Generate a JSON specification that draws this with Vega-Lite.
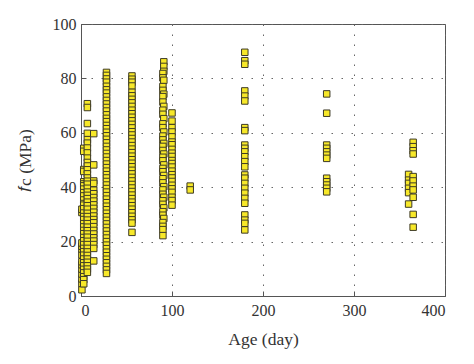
{
  "$schema": "https://vega.github.io/schema/vega-lite/v6.json",
  "autosize": "none",
  "width": 364,
  "height": 272,
  "padding": {"left": 81, "top": 24, "right": 29, "bottom": 68},
  "background": "white",
  "config": {
    "view": {"stroke": "#555", "strokeWidth": 1},
    "font": "Liberation Serif"
  },
  "data": {"values": [
    {"age":1,"fc":2.3},{"age":1,"fc":4.6},{"age":1,"fc":6.3},{"age":1,"fc":8.1},{"age":1,"fc":9.9},{"age":1,"fc":11.5},{"age":1,"fc":12.6},{"age":1,"fc":15.1},{"age":1,"fc":17.3},{"age":1,"fc":18.3},{"age":1,"fc":19.5},{"age":1,"fc":30.7},{"age":1,"fc":31.9},
    {"age":3,"fc":54.3},{"age":3,"fc":53.2},{"age":3,"fc":46.5},{"age":3,"fc":45.8},{"age":3,"fc":42.0},{"age":3,"fc":41.2},{"age":3,"fc":40.5},{"age":3,"fc":39.3},{"age":3,"fc":38.0},{"age":3,"fc":36.8},{"age":3,"fc":35.3},{"age":3,"fc":34.0},{"age":3,"fc":33.4},{"age":3,"fc":32.1},{"age":3,"fc":30.5},{"age":3,"fc":29.2},{"age":3,"fc":28.1},{"age":3,"fc":26.6},{"age":3,"fc":25.4},{"age":3,"fc":24.1},{"age":3,"fc":22.9},{"age":3,"fc":21.5},{"age":3,"fc":20.3},{"age":3,"fc":18.9},{"age":3,"fc":17.5},{"age":3,"fc":16.3},{"age":3,"fc":15.0},{"age":3,"fc":13.6},{"age":3,"fc":12.2},{"age":3,"fc":11.1},{"age":3,"fc":9.8},{"age":3,"fc":8.5},{"age":3,"fc":7.1},{"age":3,"fc":6.0},{"age":3,"fc":4.5},
    {"age":7,"fc":70.7},{"age":7,"fc":69.3},{"age":7,"fc":63.4},{"age":7,"fc":59.8},{"age":7,"fc":57.5},{"age":7,"fc":56.2},{"age":7,"fc":54.4},{"age":7,"fc":52.6},{"age":7,"fc":50.7},{"age":7,"fc":49.1},{"age":7,"fc":47.8},{"age":7,"fc":46.4},{"age":7,"fc":44.9},{"age":7,"fc":43.4},{"age":7,"fc":42.2},{"age":7,"fc":41.1},{"age":7,"fc":39.6},{"age":7,"fc":38.2},{"age":7,"fc":37.0},{"age":7,"fc":35.8},{"age":7,"fc":34.5},{"age":7,"fc":33.2},{"age":7,"fc":31.9},{"age":7,"fc":30.4},{"age":7,"fc":29.2},{"age":7,"fc":27.9},{"age":7,"fc":26.6},{"age":7,"fc":25.3},{"age":7,"fc":24.0},{"age":7,"fc":22.8},{"age":7,"fc":21.6},{"age":7,"fc":20.1},{"age":7,"fc":18.9},{"age":7,"fc":17.5},{"age":7,"fc":16.2},{"age":7,"fc":14.9},{"age":7,"fc":13.6},{"age":7,"fc":12.4},{"age":7,"fc":11.1},{"age":7,"fc":9.9},{"age":7,"fc":8.7},
    {"age":14,"fc":59.7},{"age":14,"fc":48.2},{"age":14,"fc":42.3},{"age":14,"fc":41.4},{"age":14,"fc":38.9},{"age":14,"fc":37.6},{"age":14,"fc":36.2},{"age":14,"fc":34.9},{"age":14,"fc":33.5},{"age":14,"fc":32.2},{"age":14,"fc":30.8},{"age":14,"fc":29.4},{"age":14,"fc":28.1},{"age":14,"fc":26.9},{"age":14,"fc":25.5},{"age":14,"fc":24.1},{"age":14,"fc":22.8},{"age":14,"fc":21.4},{"age":14,"fc":20.2},{"age":14,"fc":18.9},{"age":14,"fc":17.5},{"age":14,"fc":12.9},
    {"age":28,"fc":82.2},{"age":28,"fc":81.1},{"age":28,"fc":79.8},{"age":28,"fc":78.6},{"age":28,"fc":77.1},{"age":28,"fc":75.8},{"age":28,"fc":74.6},{"age":28,"fc":73.2},{"age":28,"fc":71.9},{"age":28,"fc":70.6},{"age":28,"fc":69.3},{"age":28,"fc":68.0},{"age":28,"fc":66.6},{"age":28,"fc":65.3},{"age":28,"fc":64.1},{"age":28,"fc":62.7},{"age":28,"fc":61.5},{"age":28,"fc":60.2},{"age":28,"fc":58.9},{"age":28,"fc":57.6},{"age":28,"fc":56.3},{"age":28,"fc":55.0},{"age":28,"fc":53.7},{"age":28,"fc":52.4},{"age":28,"fc":51.1},{"age":28,"fc":49.8},{"age":28,"fc":48.5},{"age":28,"fc":47.2},{"age":28,"fc":45.9},{"age":28,"fc":44.6},{"age":28,"fc":43.4},{"age":28,"fc":42.1},{"age":28,"fc":40.8},{"age":28,"fc":39.5},{"age":28,"fc":38.2},{"age":28,"fc":36.9},{"age":28,"fc":35.6},{"age":28,"fc":34.3},{"age":28,"fc":33.0},{"age":28,"fc":31.7},{"age":28,"fc":30.4},{"age":28,"fc":29.1},{"age":28,"fc":27.8},{"age":28,"fc":26.5},{"age":28,"fc":25.2},{"age":28,"fc":23.9},{"age":28,"fc":22.6},{"age":28,"fc":21.3},{"age":28,"fc":20.0},{"age":28,"fc":18.7},{"age":28,"fc":17.4},{"age":28,"fc":16.1},{"age":28,"fc":14.8},{"age":28,"fc":13.5},{"age":28,"fc":12.2},{"age":28,"fc":10.9},{"age":28,"fc":9.6},{"age":28,"fc":8.3},
    {"age":56,"fc":80.9},{"age":56,"fc":79.7},{"age":56,"fc":78.6},{"age":56,"fc":77.2},{"age":56,"fc":74.9},{"age":56,"fc":73.6},{"age":56,"fc":72.3},{"age":56,"fc":71.0},{"age":56,"fc":69.7},{"age":56,"fc":68.3},{"age":56,"fc":67.0},{"age":56,"fc":65.7},{"age":56,"fc":64.4},{"age":56,"fc":63.1},{"age":56,"fc":61.8},{"age":56,"fc":60.4},{"age":56,"fc":59.2},{"age":56,"fc":57.9},{"age":56,"fc":56.6},{"age":56,"fc":55.3},{"age":56,"fc":54.0},{"age":56,"fc":52.7},{"age":56,"fc":51.4},{"age":56,"fc":50.1},{"age":56,"fc":48.8},{"age":56,"fc":47.5},{"age":56,"fc":46.2},{"age":56,"fc":44.9},{"age":56,"fc":43.6},{"age":56,"fc":42.3},{"age":56,"fc":41.0},{"age":56,"fc":39.7},{"age":56,"fc":38.4},{"age":56,"fc":37.1},{"age":56,"fc":35.8},{"age":56,"fc":34.5},{"age":56,"fc":33.2},{"age":56,"fc":31.9},{"age":56,"fc":30.6},{"age":56,"fc":29.3},{"age":56,"fc":28.0},{"age":56,"fc":26.8},{"age":56,"fc":23.4},
    {"age":91,"fc":86.1},{"age":91,"fc":84.4},{"age":91,"fc":82.6},{"age":90,"fc":81.8},{"age":90,"fc":80.2},{"age":91,"fc":79.3},{"age":90,"fc":77.0},{"age":90,"fc":75.6},{"age":91,"fc":74.2},{"age":90,"fc":73.3},{"age":90,"fc":71.3},{"age":91,"fc":69.7},{"age":90,"fc":68.3},{"age":90,"fc":66.8},{"age":91,"fc":65.2},{"age":90,"fc":63.3},{"age":90,"fc":61.9},{"age":91,"fc":60.3},{"age":90,"fc":58.8},{"age":90,"fc":57.4},{"age":91,"fc":56.1},{"age":90,"fc":55.0},{"age":90,"fc":53.5},{"age":91,"fc":52.2},{"age":90,"fc":51.0},{"age":90,"fc":49.7},{"age":91,"fc":48.2},{"age":90,"fc":46.9},{"age":90,"fc":45.7},{"age":91,"fc":44.3},{"age":90,"fc":43.1},{"age":90,"fc":41.6},{"age":91,"fc":40.2},{"age":90,"fc":39.0},{"age":90,"fc":37.4},{"age":91,"fc":36.3},{"age":90,"fc":35.0},{"age":90,"fc":33.7},{"age":91,"fc":32.4},{"age":90,"fc":31.0},{"age":90,"fc":29.7},{"age":91,"fc":28.5},{"age":90,"fc":27.0},{"age":90,"fc":25.6},{"age":90,"fc":24.4},{"age":90,"fc":22.2},
    {"age":100,"fc":67.3},{"age":100,"fc":64.3},{"age":100,"fc":61.9},{"age":100,"fc":60.3},{"age":100,"fc":58.5},{"age":100,"fc":56.6},{"age":100,"fc":55.6},{"age":100,"fc":53.9},{"age":100,"fc":52.5},{"age":100,"fc":51.3},{"age":100,"fc":49.8},{"age":100,"fc":48.7},{"age":100,"fc":47.4},{"age":100,"fc":45.9},{"age":100,"fc":44.6},{"age":100,"fc":43.4},{"age":100,"fc":42.1},{"age":100,"fc":40.7},{"age":100,"fc":39.4},{"age":100,"fc":38.1},{"age":100,"fc":36.3},{"age":100,"fc":35.1},{"age":100,"fc":33.4},
    {"age":120,"fc":40.4},{"age":120,"fc":39.0},
    {"age":180,"fc":89.6},{"age":180,"fc":86.5},{"age":180,"fc":85.2},{"age":180,"fc":75.4},{"age":180,"fc":73.5},{"age":180,"fc":71.7},{"age":180,"fc":61.9},{"age":180,"fc":60.8},{"age":180,"fc":55.5},{"age":180,"fc":54.3},{"age":180,"fc":53.0},{"age":180,"fc":51.2},{"age":180,"fc":49.4},{"age":180,"fc":47.5},{"age":180,"fc":44.5},{"age":180,"fc":43.3},{"age":180,"fc":41.4},{"age":180,"fc":39.6},{"age":180,"fc":37.8},{"age":180,"fc":35.9},{"age":180,"fc":34.1},{"age":180,"fc":29.8},{"age":180,"fc":27.9},{"age":180,"fc":26.7},{"age":180,"fc":24.3},
    {"age":270,"fc":74.3},{"age":270,"fc":67.2},{"age":270,"fc":55.5},{"age":270,"fc":54.3},{"age":270,"fc":53.0},{"age":270,"fc":51.8},{"age":270,"fc":50.6},{"age":270,"fc":43.3},{"age":270,"fc":42.0},{"age":270,"fc":40.8},{"age":270,"fc":39.6},{"age":270,"fc":38.3},
    {"age":360,"fc":44.7},{"age":360,"fc":42.6},{"age":360,"fc":41.4},{"age":360,"fc":39.6},{"age":360,"fc":38.0},{"age":360,"fc":33.8},
    {"age":365,"fc":56.5},{"age":365,"fc":54.9},{"age":365,"fc":53.4},{"age":365,"fc":52.2},{"age":365,"fc":43.9},{"age":365,"fc":42.3},{"age":365,"fc":40.4},{"age":365,"fc":39.0},{"age":365,"fc":36.3},{"age":365,"fc":30.0},{"age":365,"fc":25.3}
  ]},
  "mark": {"type": "square", "size": 42, "filled": true, "fill": "#f7e829", "stroke": "#3d3a26", "strokeWidth": 1, "opacity": 1},
  "encoding": {
    "x": {
      "field": "age", "type": "quantitative",
      "scale": {"domain": [0, 400], "nice": false, "zero": true},
      "axis": {
        "title": "Age (day)", "values": [0, 100, 200, 300, 400],
        "grid": true, "gridDash": [1.5, 8.5], "gridColor": "#666", "gridWidth": 1,
        "domainColor": "#555", "tickColor": "#555", "tickSize": -5,
        "labelFont": "Liberation Serif", "labelFontSize": 16, "labelColor": "#333", "labelPadding": 11,
        "titleFont": "Liberation Serif", "titleFontSize": 17.5, "titleFontWeight": "normal", "titleColor": "#333", "titlePadding": 12
      }
    },
    "y": {
      "field": "fc", "type": "quantitative",
      "scale": {"domain": [0, 100], "nice": false},
      "axis": {
        "title": "𝑓c (MPa)", "values": [0, 20, 40, 60, 80, 100],
        "grid": true, "gridDash": [1.5, 8.5], "gridColor": "#666", "gridWidth": 1,
        "domainColor": "#555", "tickColor": "#555", "tickSize": -5,
        "labelFont": "Liberation Serif", "labelFontSize": 16, "labelColor": "#333", "labelPadding": 10,
        "titleFont": "Liberation Serif", "titleFontSize": 17.5, "titleFontWeight": "normal", "titleColor": "#333", "titlePadding": 18
      }
    }
  }
}
